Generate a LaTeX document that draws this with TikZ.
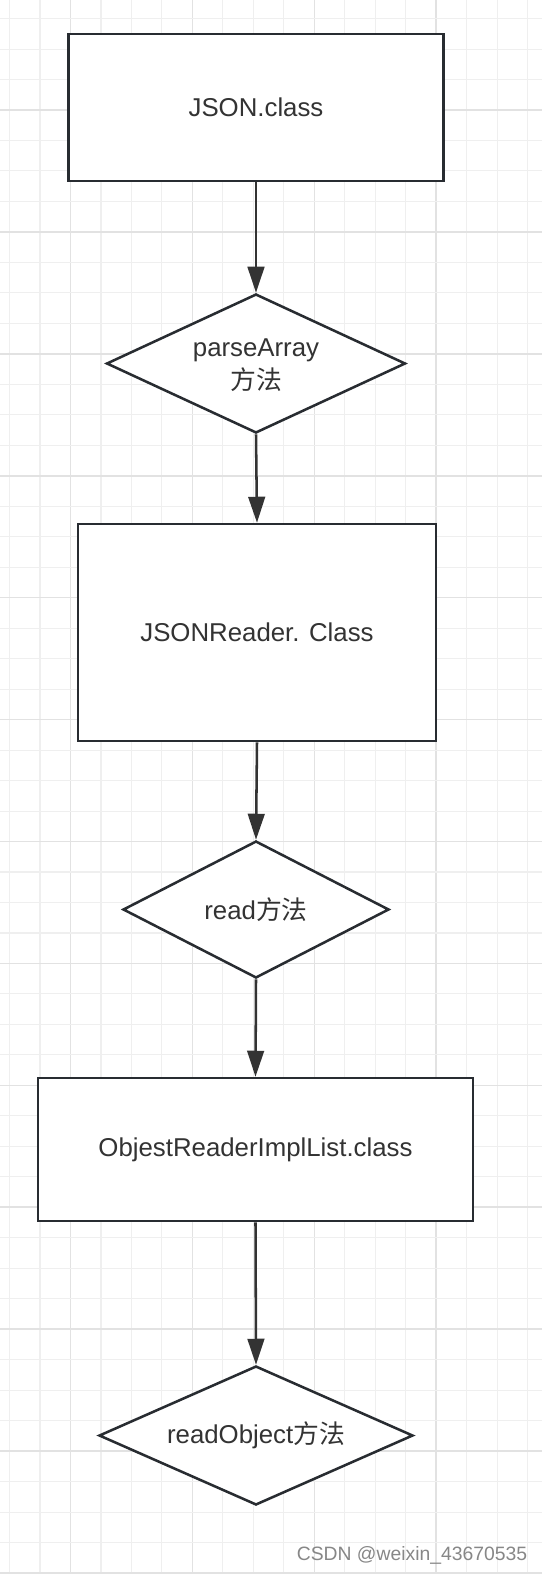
\documentclass[tikz,border=0pt]{standalone}
\usepackage{fontspec}
\setmainfont{Liberation Sans}
\newfontfamily\cjk{Noto Sans CJK SC}
\usetikzlibrary{shapes.geometric,arrows.meta}
\definecolor{gridminor}{RGB}{239,239,239}
\definecolor{gridmajor}{RGB}{226,226,226}
\definecolor{edgecol}{RGB}{40,44,49}
\definecolor{arrowcol}{RGB}{51,51,51}
\definecolor{textcol}{RGB}{51,51,51}
\definecolor{wmcol}{RGB}{135,135,135}
\tikzset{
  boxnode/.style={draw=edgecol, line width=1.9pt, fill=white, rectangle, inner sep=0pt,
    text=textcol, font=\fontsize{19.35pt}{22.5pt}\selectfont},
  dianode/.style={draw=edgecol, line width=1.9pt, fill=white, diamond, shape aspect=2, inner sep=0pt,
    text=textcol, font=\fontsize{19.35pt}{22.5pt}\selectfont, align=center},
  flow/.style={draw=arrowcol, line width=1.9pt, -{Triangle[length=19.5pt,width=12.5pt]}},
}
\begin{document}
\begin{tikzpicture}[x=0.75pt,y=-0.75pt]
\useasboundingbox (0,0) rectangle (542,1574);
\fill[white] (0,0) rectangle (542,1574);
% grid
\foreach \i in {-2,...,15}{
  \pgfmathsetmacro\gx{70.5+\i*30.48}
  \pgfmathtruncatemacro\gm{mod(\i+8,4)}
  \ifnum\gm=0
    \draw[gridmajor, line width=1.2pt] (\gx,0) -- (\gx,1574);
  \else
    \draw[gridminor, line width=0.8pt] (\gx,0) -- (\gx,1574);
  \fi
}
\foreach \j in {-3,...,48}{
  \pgfmathsetmacro\gy{110+\j*30.48}
  \pgfmathtruncatemacro\gm{mod(\j+8,4)}
  \ifnum\gm=0
    \draw[gridmajor, line width=1.2pt] (0,\gy) -- (542,\gy);
  \else
    \draw[gridminor, line width=0.8pt] (0,\gy) -- (542,\gy);
  \fi
}
% nodes
\node[boxnode, minimum width=281.25pt, minimum height=110.25pt] (b1) at (256,107.5) {JSON.class};
\node[dianode, minimum width=224.25pt, minimum height=104.25pt] (d1) at (256,363.5) {\strut parseArray\\{\cjk 方法}};
\node[boxnode, minimum width=268.5pt, minimum height=162.75pt] (b2) at (257,632.5) {JSONReader. Class};
\node[dianode, minimum width=199.5pt, minimum height=102.75pt] (d2) at (256,909.5) {read{\cjk 方法}};
\node[boxnode, minimum width=326.25pt, minimum height=107.25pt] (b3) at (255.5,1149.5) {ObjestReaderImplList.class};
\node[dianode, minimum width=235.5pt, minimum height=104.25pt] (d3) at (256,1435.5) {readObject{\cjk 方法}};
% connectors
\draw[flow] (b1.south) -- (d1.north);
\draw[flow] (d1.south) -- (b2.north);
\draw[flow] (b2.south) -- (d2.north);
\draw[flow] (d2.south) -- (b3.north);
\draw[flow] (b3.south) -- (d3.north);
% watermark
\node[text=wmcol, font=\fontsize{14.5pt}{17pt}\selectfont, inner sep=0pt] (wm) at (412,1555) {CSDN @weixin\_43670535};
\end{tikzpicture}
\end{document}
